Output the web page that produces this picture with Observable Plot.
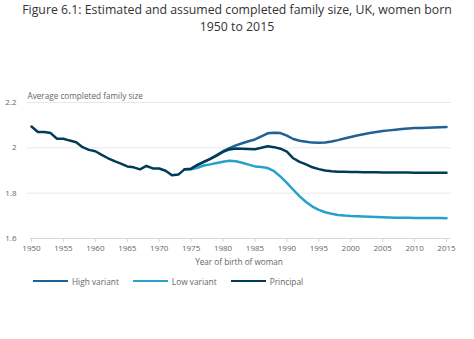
<!DOCTYPE html>
<html><head><meta charset="utf-8">
<script src="https://cdn.jsdelivr.net/npm/d3@7"></script>
<script src="https://cdn.jsdelivr.net/npm/@observablehq/plot@0.6"></script>
<style>
body{margin:0;background:#fff;font-family:"Open Sans",sans-serif;width:474px;height:339px;overflow:hidden;}
#title{height:44px;text-align:center;font-size:12.3px;line-height:16.8px;color:#333;padding-top:2px;box-sizing:border-box;}
#chart svg{display:block;}
#legend{display:flex;align-items:center;height:14px;padding-left:33px;font-size:8.3px;color:#666;}
.item{display:flex;align-items:center;margin-right:14px;}
.sw{width:35px;height:2.5px;margin-right:4px;}
</style></head><body>
<div id="title">Figure 6.1: Estimated and assumed completed family size, UK, women born<br>1950 to 2015</div>
<div id="chart"></div>
<div id="legend"></div>
<script>
const seriesNames = ["High variant", "Low variant", "Principal"];
const seriesColors = ["#206095", "#27a0cc", "#003c57"];
const xTicks = [1950,1955,1960,1965,1970,1975,1980,1985,1990,1995,2000,2005,2010,2015];
const yTicks = [1.6, 1.8, 2, 2.2];
const yLabel = "Average completed family size";
const xLabel = "Year of birth of woman";

const principalStart = 1950;
const principal = [2.094,2.07,2.07,2.065,2.04,2.04,2.032,2.025,2.003,1.991,
  1.985,1.969,1.954,1.941,1.93,1.918,1.914,1.905,1.92,1.909,
  1.909,1.899,1.879,1.882,1.906,1.908,1.925,1.938,1.951,1.966,
  1.982,1.993,1.997,1.996,1.995,1.994,2.0,2.007,2.003,1.996,
  1.983,1.954,1.938,1.927,1.914,1.906,1.9,1.897,1.895,1.894,
  1.893,1.893,1.892,1.892,1.892,1.891,1.891,1.891,1.891,1.891,
  1.89,1.89,1.89,1.89,1.89,1.89];

const variantStart = 1974;
const high = [1.906,1.907,1.924,1.938,1.951,1.968,1.985,1.999,2.011,2.02,
  2.029,2.037,2.051,2.064,2.067,2.065,2.054,2.039,2.031,2.027,
  2.023,2.022,2.024,2.028,2.034,2.041,2.048,2.054,2.06,2.065,
  2.07,2.074,2.077,2.08,2.083,2.085,2.087,2.088,2.089,2.09,
  2.091,2.092];
const low = [1.906,1.905,1.912,1.922,1.927,1.933,1.939,1.943,1.941,1.934,
  1.926,1.918,1.915,1.911,1.897,1.873,1.845,1.815,1.786,1.761,
  1.741,1.726,1.716,1.709,1.704,1.701,1.699,1.698,1.697,1.696,
  1.695,1.694,1.693,1.692,1.691,1.691,1.69,1.69,1.69,1.69,
  1.69,1.689];

const rows = [];
high.forEach((v,i)=>rows.push({year: variantStart+i, value: v, series: seriesNames[0]}));
low.forEach((v,i)=>rows.push({year: variantStart+i, value: v, series: seriesNames[1]}));
principal.forEach((v,i)=>rows.push({year: principalStart+i, value: v, series: seriesNames[2]}));

const chart = Plot.plot({
  width: 474,
  height: 230,
  marginTop: 58,
  marginLeft: 31,
  marginRight: 28,
  marginBottom: 36,
  style: {fontFamily: "'Open Sans', sans-serif", background: "white"},
  x: {domain: [1950, 2015]},
  y: {domain: [1.6, 2.2]},
  color: {domain: seriesNames, range: seriesColors},
  marks: [
    Plot.ruleY(yTicks.slice(1), {stroke: "#e8e8e8", strokeWidth: 1, insetLeft: -4, insetRight: -5}),
    Plot.ruleY([yTicks[0]], {stroke: "#d6d6d6", strokeWidth: 1, insetLeft: -1, insetRight: -4}),
    Plot.axisY({ticks: yTicks, tickSize: 0, tickPadding: 15, tickFormat: d => String(d), fontSize: 8, fill: "#666", label: null}),
    Plot.axisX({ticks: xTicks, tickFormat: "d", tickSize: 4, tickPadding: 3, stroke: "#d6d6d6", fontSize: 8, fill: "#666", label: null}),
    Plot.text([yLabel], {frameAnchor: "top-left", dx: -4, dy: -6, textAnchor: "start", lineAnchor: "middle", fontSize: 8.2, fill: "#666"}),
    Plot.text([xLabel], {frameAnchor: "bottom", dy: 24, lineAnchor: "middle", fontSize: 8.2, fill: "#666"}),
    Plot.line(rows, {x: "year", y: "value", z: "series", stroke: "series", strokeWidth: 2.5, strokeLinejoin: "round", strokeLinecap: "round"})
  ]
});
document.getElementById("chart").appendChild(chart);

const legend = document.getElementById("legend");
seriesNames.forEach((n,i)=>{
  const it = document.createElement("div"); it.className = "item";
  const sw = document.createElement("div"); sw.className = "sw"; sw.style.background = seriesColors[i];
  const tx = document.createElement("span"); tx.textContent = n;
  it.appendChild(sw); it.appendChild(tx); legend.appendChild(it);
});
</script>
</body></html>
